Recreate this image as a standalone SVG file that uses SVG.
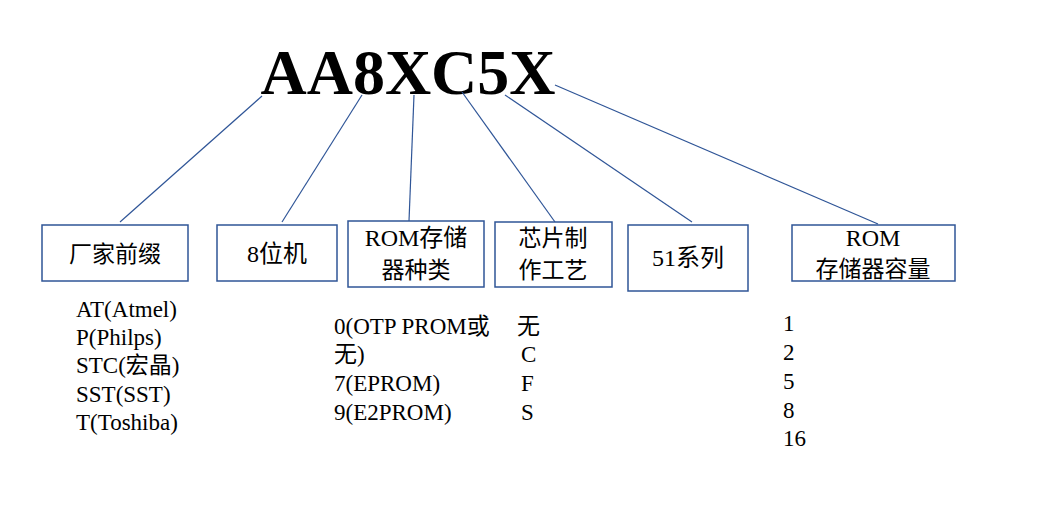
<svg xmlns="http://www.w3.org/2000/svg" width="1054" height="518" viewBox="0 0 1054 518">
<style>
.b{fill:#fff;stroke:#2f5597;stroke-width:1.5}
.c{stroke:#2f5597;stroke-width:1.2;fill:none}
.t{font-family:"Liberation Serif","Noto Sans CJK SC",serif;font-size:23px;fill:#000}
.h{font-family:"Noto Sans CJK SC","Liberation Sans",sans-serif;font-size:23px;fill:#000;text-anchor:middle}
.hs{font-family:"Liberation Serif","Noto Sans CJK SC",serif;font-size:24px;fill:#000;text-anchor:middle}
</style>
<rect width="1054" height="518" fill="#fff"/>
<text x="408" y="94" text-anchor="middle" font-family="Liberation Serif,serif" font-weight="bold" font-size="64">AA8XC5X</text>
<g id="connectors">
<line class="c" x1="262" y1="96" x2="120" y2="222"/>
<line class="c" x1="362" y1="95" x2="282" y2="222"/>
<line class="c" x1="414" y1="95" x2="409" y2="221"/>
<line class="c" x1="462" y1="92" x2="555" y2="222"/>
<line class="c" x1="505" y1="95" x2="692" y2="222"/>
<line class="c" x1="555" y1="85" x2="878" y2="224"/>
</g>
<g id="n1"><rect class="b" x="42" y="225" width="146" height="56"/><text class="h" x="115" y="262">厂家前缀</text></g>
<g id="n2"><rect class="b" x="217" y="225" width="120" height="56"/><text class="hs" x="277" y="262">8位机</text></g>
<g id="n3"><rect class="b" x="348" y="221" width="136" height="66"/><text class="hs" x="416" y="246">ROM存储</text><text class="h" x="416" y="278">器种类</text></g>
<g id="n4"><rect class="b" x="495" y="222" width="117" height="65"/><text class="h" x="553" y="246">芯片制</text><text class="h" x="553" y="278">作工艺</text></g>
<g id="n5"><rect class="b" x="628" y="225" width="120" height="66"/><text class="hs" x="688" y="266">51系列</text></g>
<g id="n6"><rect class="b" x="792" y="225" width="163" height="56"/><text class="hs" x="873" y="246">ROM</text><text class="h" x="873" y="277">存储器容量</text></g>
<g class="t">
<text x="76" y="317">AT(Atmel)</text>
<text x="76" y="345">P(Philps)</text>
<text x="76" y="373">STC(宏晶)</text>
<text x="76" y="402">SST(SST)</text>
<text x="76" y="430">T(Toshiba)</text>
<text x="334" y="334">0(OTP PROM或</text>
<text x="334" y="362">无)</text>
<text x="334" y="391">7(EPROM)</text>
<text x="334" y="420">9(E2PROM)</text>
<text x="517" y="334">无</text>
<text x="521" y="362">C</text>
<text x="521" y="391">F</text>
<text x="521" y="420">S</text>
<text x="783" y="331">1</text>
<text x="783" y="360">2</text>
<text x="783" y="389">5</text>
<text x="783" y="418">8</text>
<text x="783" y="446">16</text>
</g>
</svg>
